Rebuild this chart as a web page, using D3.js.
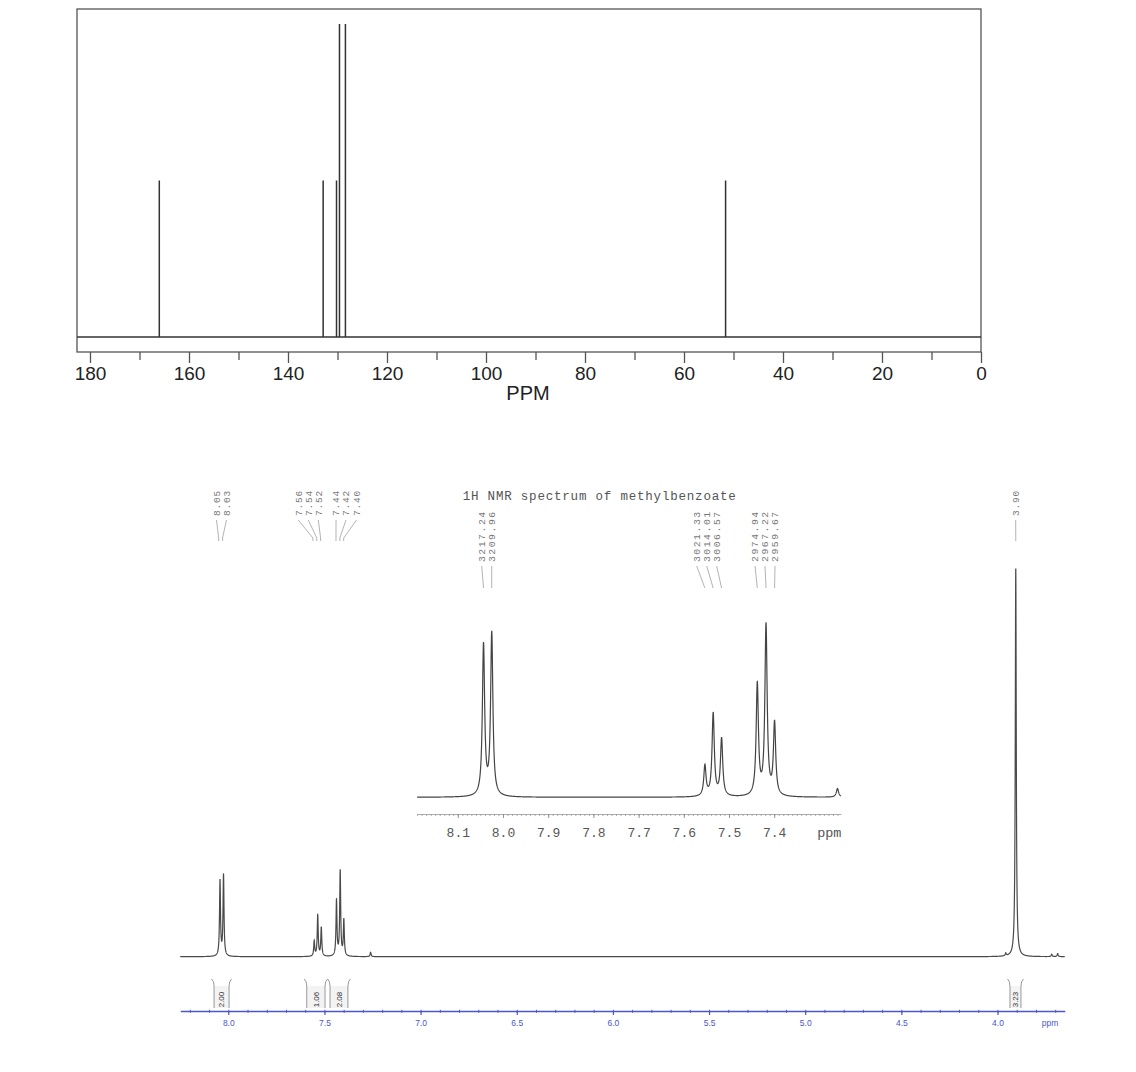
<!DOCTYPE html>
<html><head><meta charset="utf-8">
<script src="https://cdn.jsdelivr.net/npm/d3@7"></script>
<style>body{margin:0;background:#fff} svg{display:block}</style>
</head><body>
<svg id="c" width="1136" height="1072"></svg>
<script>
// ---------------- 13C spectrum data ----------------
const c13Ppm = [166.0, 132.9, 130.2, 129.6, 128.4, 51.6];
const c13Intensity = [0.5, 0.5, 0.5, 1.0, 1.0, 0.5];
const c13MajorTicks = [180, 160, 140, 120, 100, 80, 60, 40, 20, 0];
const c13MinorTicks = [170, 150, 130, 110, 90, 70, 50, 30, 10];
const c13AxisTitle = "PPM";

// ---------------- 1H spectrum data ----------------
// peak list: chemical shift (ppm) and relative height (CH3 singlet = 100)
const h1PeakPpm    = [8.0431, 8.0249, 7.5533, 7.5350, 7.5164, 7.4374, 7.4181, 7.3992, 7.2600, 3.9050, 3.957, 3.718, 3.687];
const h1PeakHeight = [19.4,   20.9,   3.9,    10.6,   7.4,    14.3,   21.9,   9.3,    1.1,    100,    0.7,   0.6,   0.8];
const h1LineWidth = 0.003; // half width, ppm
const h1MainLabels = ["8.05", "8.03", "7.56", "7.54", "7.52", "7.44", "7.42", "7.40", "3.90"];
const h1MainLabelPpm = [8.05, 8.03, 7.56, 7.54, 7.52, 7.44, 7.42, 7.40, 3.905];
const insetLabelsHz = ["3217.24", "3209.96", "3021.33", "3014.01", "3006.57", "2974.94", "2967.22", "2959.67"];
const spectrometerMHz = 400;
const integralValues = ["2.00", "1.06", "2.08", "3.23"];
const integralFrom = [8.074, 7.592, 7.471, 3.935];
const integralTo   = [7.996, 7.497, 7.378, 3.878];
const h1MajorTicks = [8.0, 7.5, 7.0, 6.5, 6.0, 5.5, 5.0, 4.5, 4.0];
const h1MajorTickLabels = ["8.0", "7.5", "7.0", "6.5", "6.0", "5.5", "5.0", "4.5", "4.0"];
const insetMajorTicks = [8.1, 8.0, 7.9, 7.8, 7.7, 7.6, 7.5, 7.4];
const insetTitle = "1H NMR spectrum of methylbenzoate";

// ---------------- layout (text positions, px) ----------------
const mainLabelX = [216.5, 226.5, 298.3, 308.3, 318.3, 336, 346, 356.5, 1015.7];
const insetLabelX = [481.7, 491.7, 696.7, 706.7, 716.7, 755, 765, 775];

(function () {
const svg = d3.select("#c");
const mono = "'Liberation Mono', 'DejaVu Sans Mono', monospace";
const sans = "'Liberation Sans', Arial, sans-serif";

// =============== 13C chart ===============
const xc = d3.scaleLinear().domain([180, 0]).range([90, 981]);
const yc = d3.scaleLinear().domain([0, 1]).range([337, 24]);
const topG = svg.append("g");
topG.append("rect").attr("x", 77).attr("y", 9).attr("width", 981 - 77).attr("height", 352 - 9)
  .attr("fill", "none").attr("stroke", "#555").attr("stroke-width", 1.3);
topG.append("line").attr("x1", 77).attr("x2", 981).attr("y1", yc(0)).attr("y2", yc(0))
  .attr("stroke", "#333").attr("stroke-width", 1.4);
topG.selectAll("line.pk").data(c13Ppm).join("line").attr("class", "pk")
  .attr("x1", d => xc(d)).attr("x2", d => xc(d))
  .attr("y1", yc(0)).attr("y2", (d, i) => yc(c13Intensity[i]))
  .attr("stroke", "#333").attr("stroke-width", 1.5);

const axMinor = topG.append("g").attr("transform", "translate(0,352)")
  .call(d3.axisBottom(xc).tickValues(c13MinorTicks).tickSize(8).tickFormat(""));
const axMajor = topG.append("g").attr("transform", "translate(0,352)")
  .call(d3.axisBottom(xc).tickValues(c13MajorTicks).tickSize(11).tickPadding(4).tickFormat(d3.format("d")));
[axMinor, axMajor].forEach(g => {
  g.select(".domain").remove();
  g.selectAll(".tick line").attr("stroke", "#555").attr("stroke-width", 1.3);
});
axMajor.selectAll(".tick text").attr("font-family", sans).attr("font-size", 19).attr("fill", "#222");
topG.append("text").attr("x", 528).attr("y", 400).attr("text-anchor", "middle")
  .attr("font-family", sans).attr("font-size", 20).attr("fill", "#222").text(c13AxisTitle);

// =============== 1H spectrum ===============
function lineshape(p) {
  let s = 0;
  for (let i = 0; i < h1PeakPpm.length; i++) {
    const u = (p - h1PeakPpm[i]) / h1LineWidth;
    s += h1PeakHeight[i] / (1 + u * u);
  }
  return s;
}
const xh = d3.scaleLinear().domain([8.25, 3.65]).range([228.3 - 0.25 * 192.3, 228.3 + 4.35 * 192.3]);
const yh = d3.scaleLinear().domain([0, 100]).range([956.7, 567.3]);
const bot = svg.append("g");
const mainPts = d3.range(8.25, 3.65, -0.0004);
bot.append("path").datum(mainPts)
  .attr("d", d3.line().x(p => xh(p)).y(p => yh(lineshape(p))))
  .attr("fill", "none").attr("stroke", "#4a4a4a").attr("stroke-width", 1.2);

// main axis
const blue = "#4b56c8";
const hAxMinor = bot.append("g").attr("transform", "translate(0,1009.8)")
  .call(d3.axisBottom(xh).tickValues(d3.range(82, 36, -1).map(v => v / 10)).tickSize(3).tickFormat(""));
hAxMinor.select(".domain").remove();
hAxMinor.selectAll(".tick line").attr("stroke", blue).attr("stroke-width", 1);
const hAx = bot.append("g").attr("transform", "translate(0,1011)")
  .call(d3.axisBottom(xh).tickValues(h1MajorTicks).tickSize(4).tickSizeOuter(0).tickPadding(5)
    .tickFormat((d, i) => h1MajorTickLabels[i]));
hAx.select(".domain").attr("stroke", blue).attr("stroke-width", 1.3);
hAx.selectAll(".tick line").attr("stroke", blue).attr("stroke-width", 1.2);
hAx.selectAll(".tick text").attr("font-family", sans).attr("font-size", 8.5).attr("fill", blue);
bot.append("text").attr("x", 1050).attr("y", 1026).attr("text-anchor", "middle")
  .attr("font-family", sans).attr("font-size", 8.5).attr("fill", blue).text("ppm");

// integrals
const integ = bot.selectAll("g.int").data(integralValues).join("g").attr("class", "int");
integ.each(function (v, i) {
  const g = d3.select(this);
  const x1 = xh(integralFrom[i]), x2 = xh(integralTo[i]);
  g.append("rect").attr("x", x1).attr("y", 986).attr("width", x2 - x1).attr("height", 22)
    .attr("fill", "#f3f3f3").attr("stroke", "none");
  g.append("path").attr("d", `M${x1 - 2.5},979 Q${x1},981 ${x1},986 L${x1},1008 M${x2 + 2.5},979 Q${x2},981 ${x2},986 L${x2},1008`)
    .attr("fill", "none").attr("stroke", "#999").attr("stroke-width", 1);
  const cx = (x1 + x2) / 2;
  g.append("text").attr("x", cx).attr("y", 1007.3).attr("dy", "0.35em")
    .attr("transform", `rotate(-90,${cx},1007.3)`)
    .attr("font-family", sans).attr("font-size", 8).attr("fill", "#333").text(v);
});

// main peak labels
const ml = bot.selectAll("g.ml").data(h1MainLabels).join("g").attr("class", "ml");
ml.append("text")
  .attr("x", (d, i) => mainLabelX[i]).attr("y", 516).attr("dy", "0.35em")
  .attr("transform", (d, i) => `rotate(-90,${mainLabelX[i]},516)`)
  .attr("font-family", mono).attr("font-size", 9.5).attr("letter-spacing", 0.8)
  .attr("fill", "#777").text(d => d);
ml.append("path")
  .attr("d", (d, i) => {
    const px = xh(h1MainLabelPpm[i]);
    return `M${mainLabelX[i]},520 L${px},538 L${px},541`;
  })
  .attr("fill", "none").attr("stroke", "#aaa").attr("stroke-width", 0.9);

// =============== inset ===============
const xi = d3.scaleLinear().domain([8.19, 7.252]).range([503 - 0.19 * 452, 503 + 0.748 * 452]);
const yi = d3.scaleLinear().domain([0, 100]).range([797.3, 18.5]);
const ins = svg.append("g");
const insPts = d3.range(8.19, 7.252, -0.0004);
ins.append("path").datum(insPts)
  .attr("d", d3.line().x(p => xi(p)).y(p => yi(lineshape(p))))
  .attr("fill", "none").attr("stroke", "#444").attr("stroke-width", 1.2);

const iAxMinor = ins.append("g").attr("transform", "translate(0,814)")
  .call(d3.axisBottom(xi).tickValues(d3.range(819, 725, -1).map(v => v / 100)).tickSize(2).tickSizeOuter(0).tickFormat(""));
iAxMinor.select(".domain").attr("stroke", "#999").attr("stroke-width", 0.8);
iAxMinor.selectAll(".tick line").attr("stroke", "#999").attr("stroke-width", 0.8);
const iAx = ins.append("g").attr("transform", "translate(0,814)")
  .call(d3.axisBottom(xi).tickValues(insetMajorTicks).tickSize(4).tickPadding(10).tickFormat(d3.format(".1f")));
iAx.select(".domain").remove();
iAx.selectAll(".tick line").attr("stroke", "#888").attr("stroke-width", 0.9);
iAx.selectAll(".tick text").attr("font-family", mono).attr("font-size", 13).attr("fill", "#555");
ins.append("text").attr("x", 829.3).attr("y", 836.5).attr("text-anchor", "middle")
  .attr("font-family", mono).attr("font-size", 13.5).attr("fill", "#555").text("ppm");

ins.append("text").attr("x", 462.7).attr("y", 500)
  .attr("font-family", mono).attr("font-size", 12.5).attr("letter-spacing", 0.8)
  .attr("fill", "#555").text(insetTitle);

const il = ins.selectAll("g.il").data(insetLabelsHz).join("g").attr("class", "il");
il.append("text")
  .attr("x", (d, i) => insetLabelX[i]).attr("y", 562).attr("dy", "0.35em")
  .attr("transform", (d, i) => `rotate(-90,${insetLabelX[i]},562)`)
  .attr("font-family", mono).attr("font-size", 9.8).attr("letter-spacing", 1.5)
  .attr("fill", "#777").text(d => d);
il.append("path")
  .attr("d", (d, i) => {
    const px = xi(+d / spectrometerMHz);
    return `M${insetLabelX[i]},566 L${px},588`;
  })
  .attr("fill", "none").attr("stroke", "#aaa").attr("stroke-width", 0.9);
})();
</script>
</body></html>
